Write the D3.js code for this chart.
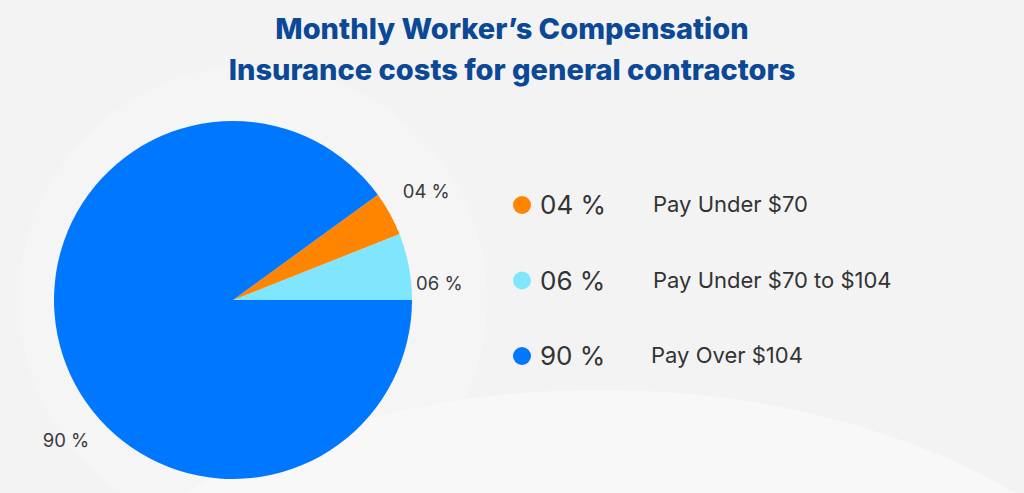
<!DOCTYPE html>
<html>
<head>
<meta charset="utf-8">
<script src="https://cdn.jsdelivr.net/npm/d3@7"></script>
<style>
  html, body { margin: 0; padding: 0; background: #f3f3f4; }
  svg { display: block; }
</style>
</head>
<body>
<svg id="chart" width="1024" height="493"></svg>
<script>
// ---- data ----
const categories = ["Pay Under $70", "Pay Under $70 to $104", "Pay Over $104"];
const values = [4, 6, 90];
const valueLabels = ["04 %", "06 %", "90 %"];
const titleLines = ["Monthly Worker\u2019s Compensation", "Insurance costs for general contractors"];

// ---- style / layout ----
const colors = ["#ff8400", "#80e6fd", "#0077ff"];
const W = 1024, H = 493;
const cx = 233, cy = 300, R = 179;
const labelRadius = [222, 207, 218];
const labelAngleNudge = [-0.012, 0.107, -0.384]; // radians, to follow the reference placement

const svg = d3.select("#chart");

// background
svg.append("rect").attr("width", W).attr("height", H).attr("fill", "#f3f3f4");
svg.append("circle").attr("cx", cx + 20).attr("cy", cy).attr("r", R + 55).attr("fill", "#f5f5f5");
svg.append("ellipse").attr("cx", 600).attr("cy", 760).attr("rx", 600).attr("ry", 370)
  .attr("fill", "#f8f8f8");

// title
const title = svg.append("text")
  .attr("text-anchor", "middle")
  .attr("font-family", "Inter, 'Open Sans', sans-serif")
  .attr("font-weight", 800)
  .attr("font-size", 29)
  .attr("fill", "#0b4896");
title.selectAll("tspan").data(titleLines).join("tspan")
  .attr("x", 512)
  .attr("y", (d, i) => 39 + i * 41)
  .text(d => d);

// pie: start at 3 o'clock, go counter-clockwise; order: 06 %, 04 %, 90 %
const order = [1, 0, 2];
const pie = d3.pie()
  .sort(null)
  .value(d => values[d])
  .startAngle(Math.PI / 2)
  .endAngle(Math.PI / 2 - 2 * Math.PI);
const arcs = pie(order);
const arc = d3.arc().innerRadius(0).outerRadius(R);

const g = svg.append("g").attr("transform", `translate(${cx},${cy})`);
g.selectAll("path").data(arcs).join("path")
  .attr("d", arc)
  .attr("fill", d => colors[d.data]);

// slice labels
g.selectAll("text.lbl").data(arcs).join("text")
  .attr("class", "lbl")
  .each(function (d) {
    const a = (d.startAngle + d.endAngle) / 2 + labelAngleNudge[d.data];
    const r = labelRadius[d.data];
    d3.select(this).attr("x", r * Math.sin(a)).attr("y", -r * Math.cos(a));
  })
  .attr("text-anchor", "middle")
  .attr("dominant-baseline", "central")
  .attr("font-family", "Inter, 'Open Sans', sans-serif")
  .attr("font-size", 18.5)
  .attr("fill", "#3a3a3a")
  .text(d => valueLabels[d.data]);

// legend
const legendY = d3.scalePoint().domain(d3.range(categories.length)).range([205, 356]);
const leg = svg.append("g").selectAll("g").data(d3.range(categories.length)).join("g")
  .attr("transform", i => `translate(0,${legendY(i)})`);
leg.append("circle").attr("cx", 522).attr("cy", 0).attr("r", 9).attr("fill", i => colors[i]);
leg.append("text")
  .attr("x", 540).attr("y", 9)
  .attr("font-family", "Inter, 'Open Sans', sans-serif")
  .attr("font-size", 26)
  .attr("fill", "#333")
  .text(i => valueLabels[i]);
leg.append("text")
  .attr("x", i => i === 2 ? 651 : 653).attr("y", 7)
  .attr("font-family", "Inter, 'Open Sans', sans-serif")
  .attr("font-size", 22)
  .attr("fill", "#333")
  .text(i => categories[i]);
</script>
</body>
</html>
